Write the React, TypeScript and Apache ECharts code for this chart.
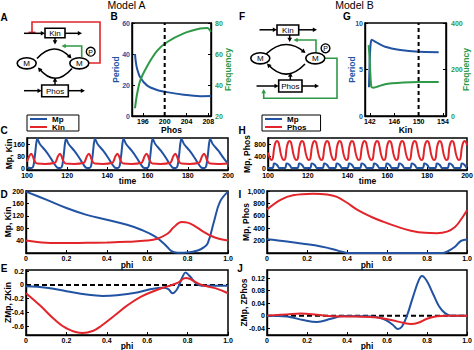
import React, { useEffect, useRef } from 'react';
import * as echarts from 'echarts';

const BLUE = '#2253a3';
const RED = '#e2252b';
const GREEN = '#2e9a47';
const FONT = '"Liberation Sans", Arial, Helvetica, sans-serif';

// ---------- Panel B (Model A: period / frequency vs Phos) ----------
const B_X_TICKS = [196, 200, 204, 208];
const B_PERIOD = [[194.55, 40], [194.7, 35], [194.9, 31], [195.5, 25], [196.8, 19.6], [198.6, 16.8], [200.4, 15.4], [203.5, 13.7], [206.5, 12.8], [208.5, 12.9]];
const B_FREQ = [[194.55, 25], [194.92, 34], [195.52, 43], [196.75, 52], [198.6, 62], [200.4, 67.6], [203.5, 73.3], [206.5, 76.4], [207.8, 76.8], [208.5, 74.3]];
const B_MARK = 200;

// ---------- Panel G (Model B: period / frequency vs Kin) ----------
const G_X_TICKS = [142, 146, 150, 154];
const G_PERIOD = [[141.85, 3.1], [141.95, 5.5], [142.1, 7.6], [142.3, 8.2], [143, 7.95], [144.5, 7.45], [147, 7.1], [150, 6.9], [153.3, 6.85]];
const G_FREQ = [[141.8, 305], [141.95, 250], [142.1, 170], [142.25, 125], [142.6, 122], [144.5, 137], [147.5, 144], [150, 146], [153.3, 146]];
const G_MARK = 150;

// ---------- Panel C (Model A time course) ----------
const C_Y_TICKS = [0, 80, 160];
const C_MP = [
  [100, 3], [101.5, 0], [102.4, 0], [103.2, 15], [104.0, 90], [104.6, 165],
  [105.1, 195], [106.4, 160], [109.1, 117], [111.9, 64], [113.7, 25], [115.1, 2], [116.7, 0], [117.5, 15], [118.3, 90], [118.9, 165],
  [119.4, 195], [120.7, 160], [123.4, 117], [126.2, 64], [128.0, 25], [129.4, 2], [131.1, 0], [131.9, 15], [132.7, 90], [133.3, 165],
  [133.8, 195], [135.1, 160], [137.8, 117], [140.6, 64], [142.4, 25], [143.8, 2], [145.3, 0], [146.1, 15], [146.9, 90], [147.5, 165],
  [148.0, 195], [149.3, 160], [152.0, 117], [154.8, 64], [156.6, 25], [158.0, 2], [159.8, 0], [160.6, 15], [161.4, 90], [162.0, 165],
  [162.5, 195], [163.8, 160], [166.5, 117], [169.3, 64], [171.1, 25], [172.5, 2], [174.1, 0], [174.9, 15], [175.7, 90], [176.3, 165],
  [176.8, 195], [178.1, 160], [180.8, 117], [183.6, 64], [185.4, 25], [186.8, 2], [188.4, 0], [189.2, 15], [190.0, 90], [190.6, 165],
  [191.1, 195], [192.4, 160], [195.1, 117], [197.9, 64], [200, 30],
];
const C_KIN = [
  [100, 42], [101.1, 78], [102.1, 95], [102.8, 82], [103.5, 55], [104.3, 36], [105.1, 30], [109.1, 27],
  [113.9, 35], [114.6, 50], [115.4, 78], [116.4, 95], [117.1, 82], [117.8, 55], [118.6, 36], [119.4, 30], [123.4, 27],
  [128.3, 35], [129.0, 50], [129.8, 78], [130.8, 95], [131.5, 82], [132.2, 55], [133.0, 36], [133.8, 30], [137.8, 27],
  [142.5, 35], [143.2, 50], [144.0, 78], [145.0, 95], [145.7, 82], [146.4, 55], [147.2, 36], [148.0, 30], [152.0, 27],
  [157.0, 35], [157.7, 50], [158.5, 78], [159.5, 95], [160.2, 82], [160.9, 55], [161.7, 36], [162.5, 30], [166.5, 27],
  [171.3, 35], [172.0, 50], [172.8, 78], [173.8, 95], [174.5, 82], [175.2, 55], [176.0, 36], [176.8, 30], [180.8, 27],
  [185.6, 35], [186.3, 50], [187.1, 78], [188.1, 95], [188.8, 82], [189.5, 55], [190.3, 36], [191.1, 30], [195.1, 27], [200, 30],
];

// ---------- Panel H (Model B time course) ----------
const H_Y_TICKS = [0, 400, 800];
const H_PHOS = [
  [100, 520], [100.8, 350], [101.6, 265], [102.4, 320],
  [103.1, 680], [103.8, 850], [104.5, 900], [105.2, 860], [105.8, 700], [106.4, 480], [107.1, 330], [107.9, 265], [108.7, 320],
  [109.4, 680], [110.1, 850], [110.8, 900], [111.5, 860], [112.1, 700], [112.7, 480], [113.4, 330], [114.2, 265], [115.0, 320],
  [115.7, 680], [116.4, 850], [117.1, 900], [117.8, 860], [118.4, 700], [119.0, 480], [119.7, 330], [120.5, 265], [121.3, 320],
  [122.0, 680], [122.7, 850], [123.4, 900], [124.1, 860], [124.7, 700], [125.3, 480], [126.0, 330], [126.8, 265], [127.6, 320],
  [128.3, 680], [129.0, 850], [129.7, 900], [130.4, 860], [131.0, 700], [131.6, 480], [132.3, 330], [133.1, 265], [133.9, 320],
  [134.6, 680], [135.3, 850], [136.0, 900], [136.7, 860], [137.3, 700], [137.9, 480], [138.6, 330], [139.4, 265], [140.2, 320],
  [140.8, 680], [141.5, 850], [142.2, 900], [142.9, 860], [143.5, 700], [144.1, 480], [144.8, 330], [145.6, 265], [146.4, 320],
  [147.1, 680], [147.8, 850], [148.5, 900], [149.2, 860], [149.8, 700], [150.4, 480], [151.1, 330], [151.9, 265], [152.7, 320],
  [153.4, 680], [154.1, 850], [154.8, 900], [155.5, 860], [156.1, 700], [156.7, 480], [157.4, 330], [158.2, 265], [159.0, 320],
  [159.7, 680], [160.4, 850], [161.1, 900], [161.8, 860], [162.4, 700], [163.0, 480], [163.7, 330], [164.5, 265], [165.3, 320],
  [166.0, 680], [166.7, 850], [167.4, 900], [168.1, 860], [168.7, 700], [169.3, 480], [170.0, 330], [170.8, 265], [171.6, 320],
  [172.3, 680], [173.0, 850], [173.7, 900], [174.4, 860], [175.0, 700], [175.6, 480], [176.3, 330], [177.1, 265], [177.9, 320],
  [178.6, 680], [179.3, 850], [180.0, 900], [180.7, 860], [181.3, 700], [181.9, 480], [182.6, 330], [183.4, 265], [184.2, 320],
  [184.9, 680], [185.6, 850], [186.3, 900], [187.0, 860], [187.6, 700], [188.2, 480], [188.9, 330], [189.7, 265], [190.5, 320],
  [191.1, 680], [191.8, 850], [192.5, 900], [193.2, 860], [193.8, 700], [194.4, 480], [195.1, 330], [195.9, 265], [196.7, 320],
  [197.4, 680], [198.1, 850], [198.8, 900], [199.5, 860], [200, 760],
];
const H_MP = [
  [100, 0],
  [102.35, 0], [102.7, 60], [102.95, 150], [103.1, 170], [103.7, 148], [104.4, 108], [105.0, 60], [105.5, 0],
  [108.65, 0], [109.0, 60], [109.25, 150], [109.4, 170], [110.0, 148], [110.7, 108], [111.3, 60], [111.8, 0],
  [114.95, 0], [115.3, 60], [115.55, 150], [115.7, 170], [116.3, 148], [117.0, 108], [117.6, 60], [118.1, 0],
  [121.25, 0], [121.6, 60], [121.85, 150], [122.0, 170], [122.6, 148], [123.3, 108], [123.9, 60], [124.4, 0],
  [127.55, 0], [127.9, 60], [128.15, 150], [128.3, 170], [128.9, 148], [129.6, 108], [130.2, 60], [130.7, 0],
  [133.85, 0], [134.2, 60], [134.45, 150], [134.6, 170], [135.2, 148], [135.9, 108], [136.5, 60], [137.0, 0],
  [140.05, 0], [140.4, 60], [140.65, 150], [140.8, 170], [141.4, 148], [142.1, 108], [142.7, 60], [143.2, 0],
  [146.35, 0], [146.7, 60], [146.95, 150], [147.1, 170], [147.7, 148], [148.4, 108], [149.0, 60], [149.5, 0],
  [152.65, 0], [153.0, 60], [153.25, 150], [153.4, 170], [154.0, 148], [154.7, 108], [155.3, 60], [155.8, 0],
  [158.95, 0], [159.3, 60], [159.55, 150], [159.7, 170], [160.3, 148], [161.0, 108], [161.6, 60], [162.1, 0],
  [165.25, 0], [165.6, 60], [165.85, 150], [166.0, 170], [166.6, 148], [167.3, 108], [167.9, 60], [168.4, 0],
  [171.55, 0], [171.9, 60], [172.15, 150], [172.3, 170], [172.9, 148], [173.6, 108], [174.2, 60], [174.7, 0],
  [177.85, 0], [178.2, 60], [178.45, 150], [178.6, 170], [179.2, 148], [179.9, 108], [180.5, 60], [181.0, 0],
  [184.15, 0], [184.5, 60], [184.75, 150], [184.9, 170], [185.5, 148], [186.2, 108], [186.8, 60], [187.3, 0],
  [190.35, 0], [190.7, 60], [190.95, 150], [191.1, 170], [191.7, 148], [192.4, 108], [193.0, 60], [193.5, 0],
  [196.65, 0], [197.0, 60], [197.25, 150], [197.4, 170], [198.0, 148], [198.7, 108], [199.3, 60], [199.8, 0], [200, 0],
];

// ---------- Panel D / I (phase plots) ----------
const D_MP = [[0, 198], [0.1, 172], [0.2, 145], [0.3, 123], [0.4, 107], [0.5, 91], [0.57, 75], [0.64, 53], [0.69, 26], [0.72, 6], [0.75, 1], [0.8, 2], [0.85, 8], [0.88, 18], [0.9, 32], [0.93, 100], [0.96, 165], [1.0, 198]];
const D_KIN = [[0, 40], [0.1, 33], [0.2, 32], [0.3, 33], [0.4, 34], [0.5, 36], [0.6, 40], [0.65, 46], [0.7, 62], [0.73, 82], [0.77, 100], [0.8, 98], [0.84, 85], [0.88, 68], [0.92, 54], [0.96, 45], [1.0, 40]];
const I_MP = [[0, 220], [0.1, 185], [0.18, 150], [0.27, 105], [0.33, 62], [0.37, 24], [0.4, 2], [0.5, 0], [0.6, 0], [0.7, 0], [0.8, 0], [0.88, 2], [0.9, 20], [0.94, 100], [0.97, 195], [1.0, 218]];
const I_PHOS = [[0, 700], [0.07, 860], [0.13, 930], [0.23, 955], [0.3, 945], [0.35, 905], [0.4, 810], [0.45, 700], [0.52, 585], [0.58, 505], [0.65, 425], [0.72, 360], [0.79, 325], [0.85, 320], [0.9, 345], [0.94, 420], [0.97, 540], [1.0, 690]];

// ---------- Panel E / J (phase response) ----------
const E_Y_TICKS = [-0.6, -0.4, -0.2, 0, 0.2];
const J_Y_TICKS = [-0.04, 0, 0.04, 0.08, 0.12];
const E_MP = [[0, -0.02], [0.1, -0.04], [0.2, -0.09], [0.3, -0.14], [0.38, -0.16], [0.45, -0.15], [0.55, -0.11], [0.62, -0.06], [0.68, -0.04], [0.705, -0.06], [0.725, -0.12], [0.75, -0.05], [0.775, 0.12], [0.79, 0.18], [0.81, 0.13], [0.84, 0.03], [0.87, -0.01], [0.9, -0.01], [1.0, -0.01]];
const E_KIN = [[0, -0.12], [0.07, -0.3], [0.14, -0.5], [0.2, -0.63], [0.28, -0.7], [0.33, -0.67], [0.37, -0.6], [0.44, -0.44], [0.5, -0.3], [0.57, -0.17], [0.65, -0.07], [0.7, -0.02], [0.75, 0.03], [0.79, 0.1], [0.81, 0.09], [0.84, 0.04], [0.87, 0], [0.94, -0.05], [1.0, -0.12]];
const J_MP = [[0, 0], [0.1, -0.003], [0.18, -0.014], [0.25, -0.02], [0.32, -0.01], [0.38, -0.001], [0.5, -0.002], [0.58, -0.01], [0.63, -0.03], [0.655, -0.043], [0.675, -0.035], [0.7, 0], [0.73, 0.06], [0.76, 0.115], [0.775, 0.127], [0.8, 0.11], [0.83, 0.07], [0.86, 0.03], [0.89, 0.008], [0.92, 0], [1.0, 0]];
const J_PHOS = [[0, 0], [0.1, 0.004], [0.17, 0.007], [0.25, 0.003], [0.33, -0.002], [0.45, -0.003], [0.55, -0.006], [0.62, -0.014], [0.68, -0.023], [0.72, -0.027], [0.76, -0.022], [0.8, -0.01], [0.85, -0.002], [0.9, 0], [1.0, 0]];

// ---------- helpers ----------
const TICK_FS = 7;
const NAME_FS = 8.5;
const AXLINE = { show: true, onZero: false, lineStyle: { color: '#000', width: 1.4 } };
const TICK = (custom?: number[]) => ({ show: true, inside: true, length: 3, lineStyle: { color: '#000', width: 1 }, ...(custom ? { customValues: custom } : {}) });
const LBL = (color = '#000', extra: any = {}) => ({ color, fontSize: TICK_FS, fontWeight: 'bold', margin: 2, fontFamily: FONT, ...extra });
const phiFmt = (v: number) => (v === 0 ? '0' : v.toFixed(1));
const numFmt = (v: number) => (Math.abs(v) < 1e-9 ? '0' : String(+v.toFixed(2)));

function xAxis(gi: number, min: number, max: number, name: string, nameGap: number, opts: any = {}) {
  return {
    type: 'value', gridIndex: gi, min, max, name, nameLocation: 'middle', nameGap, nameMoveOverlap: false,
    nameTextStyle: { color: '#000', fontSize: NAME_FS, fontWeight: 'bold', fontFamily: FONT },
    axisLine: AXLINE, splitLine: { show: false },
    axisTick: TICK(opts.ticks), axisLabel: LBL('#000', { ...(opts.ticks ? { customValues: opts.ticks } : {}), ...(opts.fmt ? { formatter: opts.fmt } : {}) }),
    ...(opts.interval ? { interval: opts.interval } : {}),
  };
}
function yAxis(gi: number, min: number, max: number, name: string, nameGap: number, opts: any = {}) {
  const color = opts.color || '#000';
  return {
    type: 'value', gridIndex: gi, min, max, name, nameLocation: 'middle', nameGap, nameRotate: 90, nameMoveOverlap: false,
    position: opts.position || 'left',
    nameTextStyle: { color, fontSize: NAME_FS, fontWeight: 'bold', fontFamily: FONT },
    axisLine: AXLINE, splitLine: { show: false },
    axisTick: TICK(opts.ticks),
    axisLabel: LBL(color, { margin: opts.margin ?? 2, ...(opts.ticks ? { customValues: opts.ticks } : {}), ...(opts.fmt ? { formatter: opts.fmt } : {}), ...(opts.hideMin ? { showMinLabel: false } : {}) }),
    ...(opts.interval ? { interval: opts.interval } : {}),
  };
}
function line(name: string, data: number[][], xi: number, yi: number, color: string, smooth: number | boolean = 0.3, width = 2, type: any = 'solid') {
  return {
    type: 'line', name, data, xAxisIndex: xi, yAxisIndex: yi, symbol: 'none', showSymbol: false, smooth,
    lineStyle: { color, width, type }, itemStyle: { color }, silent: true,
  };
}

// diagram helpers (schematic drawings, not data marks)
function head(x: number, y: number, ang: number, color: string, s = 4.2) {
  const dx = Math.cos(ang), dy = Math.sin(ang), px = -dy, py = dx;
  return {
    type: 'polygon',
    shape: { points: [[x, y], [x - s * dx + s * 0.55 * px, y - s * dy + s * 0.55 * py], [x - s * dx - s * 0.55 * px, y - s * dy - s * 0.55 * py]] },
    style: { fill: color },
  };
}
function arrow(x1: number, y1: number, x2: number, y2: number, color = '#000', w = 1.5) {
  const ang = Math.atan2(y2 - y1, x2 - x1);
  return [
    { type: 'line', shape: { x1, y1, x2: x2 - 3 * Math.cos(ang), y2: y2 - 3 * Math.sin(ang) }, style: { stroke: color, lineWidth: w } },
    head(x2, y2, ang, color),
  ];
}
const boxT = (x: number, y: number, w: number, h: number, t: string) => [
  { type: 'rect', shape: { x, y, width: w, height: h }, style: { fill: '#fff', stroke: '#000', lineWidth: 1.6 } },
  { type: 'text', x: x + w / 2, y: y + h / 2 + 0.5, style: { text: t, fontSize: 8, fontFamily: FONT, fill: '#000', align: 'center', verticalAlign: 'middle' } },
];
const ellT = (cx: number, cy: number, t: string) => [
  { type: 'ellipse', shape: { cx, cy, rx: 9.5, ry: 5.6 }, style: { fill: '#fff', stroke: '#000', lineWidth: 1.6 } },
  { type: 'text', x: cx, y: cy + 0.5, style: { text: t, fontSize: 8, fontFamily: FONT, fill: '#000', align: 'center', verticalAlign: 'middle' } },
];
const pT = (cx: number, cy: number) => [
  { type: 'circle', shape: { cx, cy, r: 4.4 }, style: { fill: '#fff', stroke: '#000', lineWidth: 1.4 } },
  { type: 'text', x: cx, y: cy + 0.5, style: { text: 'P', fontSize: 7, fontFamily: FONT, fill: '#000', align: 'center', verticalAlign: 'middle' } },
];
const txt = (x: number, y: number, t: string, size = 10, bold = true) => ({
  type: 'text', x, y, style: { text: t, fontSize: size, fontWeight: bold ? 'bold' : 'normal', fontFamily: FONT, fill: '#000', align: 'center', verticalAlign: 'middle' },
});

function diagramA() {
  return [
    { type: 'polyline', shape: { points: [[88, 63], [100, 63], [100, 22], [32, 22], [32, 33]] }, style: { stroke: RED, lineWidth: 1.6, fill: 'none' } },
    { type: 'line', shape: { x1: 28.5, y1: 32.5, x2: 35.5, y2: 32.5 }, style: { stroke: RED, lineWidth: 1.8 } },
    ...arrow(24, 33.3, 45, 33.3), ...arrow(65, 33.3, 82, 33.3),
    ...arrow(55, 37, 55, 44.5),
    { type: 'polyline', shape: { points: [[81.7, 57], [81.7, 46], [64, 46]] }, style: { stroke: GREEN, lineWidth: 1.6, fill: 'none' } },
    head(61.5, 46, Math.PI, GREEN),
    { type: 'bezierCurve', shape: { x1: 37, y1: 58.5, x2: 70.5, y2: 57.5, cpx1: 54, cpy1: 40 }, style: { stroke: '#000', lineWidth: 1.6, fill: 'none' } },
    head(71.5, 58.5, Math.atan2(18, 17), '#000'),
    { type: 'bezierCurve', shape: { x1: 72, y1: 68.5, x2: 39, y2: 68.5, cpx1: 55, cpy1: 88 }, style: { stroke: '#000', lineWidth: 1.6, fill: 'none' } },
    head(38, 67.5, Math.atan2(-20, -17), '#000'),
    ...arrow(55, 85, 55, 77.5),
    ...arrow(24, 90.7, 41.7, 90.7), ...arrow(68.3, 90.7, 85, 90.7),
    ...boxT(45, 28.3, 20, 9.5, 'Kin'),
    ...boxT(41.7, 85, 26.6, 11.7, 'Phos'),
    ...ellT(26.7, 63.3, 'M'), ...ellT(79.3, 63.3, 'M'), ...pT(90.7, 51.7),
  ];
}
function diagramF() {
  return [
    ...arrow(259.5, 29.8, 277, 29.8), ...arrow(298.7, 29.8, 317, 29.8),
    ...arrow(289.7, 35, 289.7, 42),
    { type: 'polyline', shape: { points: [[316, 53], [316, 40], [296, 40]] }, style: { stroke: GREEN, lineWidth: 1.6, fill: 'none' } },
    head(293.5, 40, Math.PI, GREEN),
    { type: 'bezierCurve', shape: { x1: 266, y1: 54, x2: 304.5, y2: 52, cpx1: 285, cpy1: 36 }, style: { stroke: '#000', lineWidth: 1.6, fill: 'none' } },
    head(305.5, 53, Math.atan2(16, 20), '#000'),
    { type: 'bezierCurve', shape: { x1: 305, y1: 64, x2: 268, y2: 64.5, cpx1: 286, cpy1: 84 }, style: { stroke: '#000', lineWidth: 1.6, fill: 'none' } },
    head(267, 63.5, Math.atan2(-19, -18), '#000'),
    ...arrow(290.3, 80, 290.3, 72.5),
    ...arrow(256.5, 86, 278.7, 86), ...arrow(302, 86, 319, 86),
    { type: 'polyline', shape: { points: [[324, 58.3], [337, 58.3], [337, 98.3], [263.7, 98.3], [263.7, 93]] }, style: { stroke: GREEN, lineWidth: 1.6, fill: 'none' } },
    head(263.7, 89, -Math.PI / 2, GREEN),
    ...boxT(277, 25, 21.7, 10, 'Kin'),
    ...boxT(278.7, 80, 23.3, 12, 'Phos'),
    ...ellT(260.3, 58.3, 'M'), ...ellT(315.3, 58.3, 'M'), ...pT(325.5, 48.3),
  ];
}

function buildOption() {
  const legendBase = {
    orient: 'vertical', icon: 'rect', itemWidth: 17, itemHeight: 2, itemGap: 0,
    borderColor: '#000', borderWidth: 1, backgroundColor: '#fff', padding: [0, 14, 0, 3],
    textStyle: { fontSize: 8, lineHeight: 8, color: '#000', fontWeight: 'bold', fontFamily: FONT },
    selectedMode: false,
  };
  return {
    animation: false,
    backgroundColor: '#fff',
    textStyle: { fontFamily: FONT },
    grid: [
      { left: 132, top: 23, width: 79, height: 93 },
      { left: 365, top: 23, width: 81, height: 93 },
      { left: 27, top: 138, width: 201, height: 32 },
      { left: 268, top: 138, width: 199, height: 32 },
      { left: 26, top: 191, width: 202, height: 62 },
      { left: 267, top: 191, width: 200, height: 62 },
      { left: 26, top: 270, width: 202, height: 65 },
      { left: 267, top: 270, width: 200, height: 65 },
    ].map((g) => ({ ...g, show: true, borderColor: '#000', borderWidth: 1.5, backgroundColor: 'transparent', outerBoundsMode: 'none' })),
    legend: [
      { ...legendBase, data: ['Mp', 'Kin'], left: 27, top: 115 },
      { ...legendBase, data: ['Mp', 'Phos'], left: 262, top: 115 },
    ],
    xAxis: [
      xAxis(0, 194, 208.5, 'Phos', 9, { ticks: B_X_TICKS }),
      xAxis(1, 141.2, 154.5, 'Kin', 9, { ticks: G_X_TICKS }),
      xAxis(2, 100, 200, 'time', 6, { interval: 20 }),
      xAxis(3, 100, 200, 'time', 6, { interval: 20 }),
      xAxis(4, 0, 1, 'phi', 7, { interval: 0.2, fmt: phiFmt }),
      xAxis(5, 0, 1, 'phi', 7, { interval: 0.2, fmt: phiFmt }),
      xAxis(6, 0, 1, 'phi', 6, { interval: 0.2, fmt: phiFmt }),
      xAxis(7, 0, 1, 'phi', 6, { interval: 0.2, fmt: phiFmt }),
    ],
    yAxis: [
      yAxis(0, 0, 60, 'Period', 12, { interval: 20, color: BLUE }),
      yAxis(0, 20, 80, 'Frequency', 12, { interval: 20, color: GREEN, position: 'right', margin: 4 }),
      yAxis(1, 0, 10, 'Period', 9, { interval: 5, color: BLUE }),
      yAxis(1, 0, 400, 'Frequency', 15, { interval: 200, color: GREEN, position: 'right', margin: 5 }),
      yAxis(2, -13, 200, 'Mp, Kin', 14, { ticks: C_Y_TICKS }),
      yAxis(3, -65, 1000, 'Mp, Phos', 17, { ticks: H_Y_TICKS }),
      yAxis(4, 0, 200, 'Mp, Kin', 14, { interval: 40, hideMin: true }),
      yAxis(5, 0, 1000, 'Mp, Phos', 17, { interval: 200, hideMin: true }),
      yAxis(6, -0.728, 0.218, 'ZMp, ZKin', 14, { ticks: E_Y_TICKS, fmt: numFmt }),
      yAxis(7, -0.062, 0.146, 'ZMp, ZPhos', 19, { ticks: J_Y_TICKS, fmt: numFmt }),
    ],
    series: [
      line('Period', B_PERIOD, 0, 0, BLUE),
      line('Frequency', B_FREQ, 0, 1, GREEN),
      line('markB', [[B_MARK, 0], [B_MARK, 60]], 0, 0, '#000', false, 2, [4, 3]),
      line('PeriodG', G_PERIOD, 1, 2, BLUE, 0.2),
      line('FrequencyG', G_FREQ, 1, 3, GREEN, 0.2),
      line('markG', [[G_MARK, 0], [G_MARK, 10]], 1, 2, '#000', false, 2, [4, 3]),
      line('Mp', C_MP, 2, 4, BLUE, 0.25),
      line('Kin', C_KIN, 2, 4, RED, 0.3),
      line('Phos', H_PHOS, 3, 5, RED, 0.35),
      line('Mp', H_MP, 3, 5, BLUE, 0.2),
      line('Mp', D_MP, 4, 6, BLUE, 0.4),
      line('Kin', D_KIN, 4, 6, RED, 0.4),
      line('Mp', I_MP, 5, 7, BLUE, 0.4),
      line('Phos', I_PHOS, 5, 7, RED, 0.4),
      line('zeroE', [[0, 0], [1, 0]], 6, 8, '#000', false, 2, [5, 3]),
      line('Mp', E_MP, 6, 8, BLUE, 0.4),
      line('Kin', E_KIN, 6, 8, RED, 0.4),
      line('zeroJ', [[0, 0], [1, 0]], 7, 9, '#000', false, 2, [5, 3]),
      line('Mp', J_MP, 7, 9, BLUE, 0.4),
      line('Phos', J_PHOS, 7, 9, RED, 0.4),
    ],
    graphic: {
      elements: [
        txt(126.5, 4.5, 'Model A', 10.5, false),
        txt(354.5, 4.5, 'Model B', 10.5, false),
        txt(4, 17, 'A'), txt(114, 16.5, 'B'), txt(4, 130, 'C'), txt(4, 194, 'D'), txt(4, 268, 'E'),
        txt(242, 16, 'F'), txt(347, 16.5, 'G'), txt(242, 130, 'H'), txt(240, 194, 'I'), txt(240, 268, 'J'),
        ...diagramA(),
        ...diagramF(),
      ],
    },
  };
}

export default function App() {
  const ref = useRef<HTMLDivElement>(null);
  useEffect(() => {
    const chart = echarts.init(ref.current as HTMLDivElement, null, { renderer: 'svg' });
    chart.setOption(buildOption() as any);
    return () => chart.dispose();
  }, []);
  return <div ref={ref} style={{ position: 'fixed', left: 0, top: 0, width: 474, height: 350, background: '#fff' }} />;
}
